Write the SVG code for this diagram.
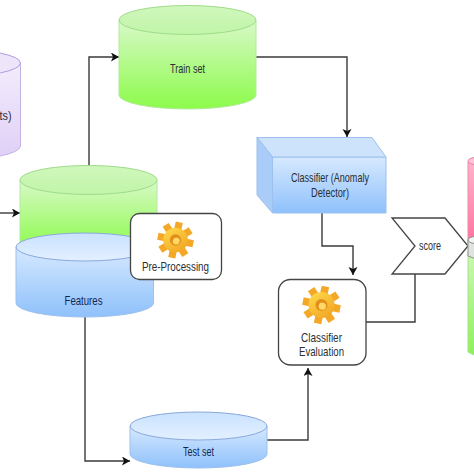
<svg xmlns="http://www.w3.org/2000/svg" width="474" height="474" viewBox="0 0 474 474">
<style>
text{font-family:"Liberation Sans",Arial,sans-serif;font-size:13px;fill:#2b2f33;text-anchor:middle}
.dk{fill:#12284f}
.conn{fill:none;stroke:#3a3a3a;stroke-width:1.4}
.box{fill:#fff;stroke:#444;stroke-width:1.3}
.gb{fill:url(#green);stroke:#b4e8a0;stroke-width:1}
.bb{fill:url(#blue);stroke:#9dc0ec;stroke-width:1}
.pb{fill:url(#purple);stroke:#c4b5e6;stroke-width:1}
.gt{fill:url(#greentop);stroke:#a0dc8a;stroke-width:1}
.bt{fill:url(#bluetop);stroke:#8aa8dc;stroke-width:1}
.pt{fill:#eee5fb;stroke:#ae9cdb;stroke-width:1}
</style>
<defs>
<linearGradient id="green" x1="0" y1="0" x2="0" y2="1"><stop offset="0" stop-color="#d8f9c8"/><stop offset="1" stop-color="#8cfb4a"/></linearGradient>
<linearGradient id="greentop" x1="0" y1="0" x2="0" y2="1"><stop offset="0" stop-color="#d0f7bd"/><stop offset="1" stop-color="#c0f5a8"/></linearGradient>
<linearGradient id="blue" x1="0" y1="0" x2="0" y2="1"><stop offset="0" stop-color="#d6e9ff"/><stop offset="1" stop-color="#8fc1fb"/></linearGradient>
<linearGradient id="bluetop" x1="0" y1="0" x2="0" y2="1"><stop offset="0" stop-color="#c9e2ff"/><stop offset="1" stop-color="#e3f0ff"/></linearGradient>
<linearGradient id="purple" x1="0" y1="0" x2="0" y2="1"><stop offset="0" stop-color="#f3ecfc"/><stop offset="1" stop-color="#dfcff7"/></linearGradient>
<linearGradient id="pink" x1="0" y1="0" x2="0" y2="1"><stop offset="0" stop-color="#ffb3cb"/><stop offset="1" stop-color="#ff6f9d"/></linearGradient>
<linearGradient id="rgreen" x1="0" y1="0" x2="0" y2="1"><stop offset="0" stop-color="#ccf7b0"/><stop offset="1" stop-color="#8cf257"/></linearGradient>
<linearGradient id="gearfill" x1="0" y1="0" x2="1" y2="1"><stop offset="0" stop-color="#ffdc4d"/><stop offset="1" stop-color="#f0a020"/></linearGradient>
<marker id="arrow" markerUnits="userSpaceOnUse" markerWidth="10" markerHeight="10" refX="8" refY="4.5" orient="auto"><path d="M0 0L8 4.5L0 9L2 4.5Z" fill="#111"/></marker>
<g id="gear">
<g fill="#f4a826">
<rect x="-3.800" y="-19" width="7.600" height="8"/>
<rect x="-3.800" y="-19" width="7.600" height="8" transform="rotate(45)"/>
<rect x="-3.800" y="-19" width="7.600" height="8" transform="rotate(90)"/>
<rect x="-3.800" y="-19" width="7.600" height="8" transform="rotate(135)"/>
<rect x="-3.800" y="-19" width="7.600" height="8" transform="rotate(180)"/>
<rect x="-3.800" y="-19" width="7.600" height="8" transform="rotate(225)"/>
<rect x="-3.800" y="-19" width="7.600" height="8" transform="rotate(270)"/>
<rect x="-3.800" y="-19" width="7.600" height="8" transform="rotate(315)"/>
</g>
<circle r="13" fill="url(#gearfill)"/>
<circle r="6" fill="#e2901a"/>
<circle cx="1" cy="1" r="3.600" fill="#ffd968"/>
</g>
</defs>

<g id="purple-store">
<path class="pb" d="M-116 63V146A68 14 0 0 0 20.500 146V63Z"/>
<ellipse class="pt" cx="-48" cy="63" rx="68.500" ry="14"/>
<text x="5.500" y="120" textLength="12" lengthAdjust="spacingAndGlyphs">ts)</text>
</g>

<g id="connectors">
<path class="conn" d="M0 213H20" marker-end="url(#arrow)"/>
<path class="conn" d="M89 166V57H119" marker-end="url(#arrow)"/>
<path class="conn" d="M256 57H347V137" marker-end="url(#arrow)"/>
<path class="conn" d="M322 213V246H353V275" marker-end="url(#arrow)"/>
<path class="conn" d="M85 317V461H130" marker-end="url(#arrow)"/>
<path class="conn" d="M267 440H308V368" marker-end="url(#arrow)"/>
<path class="conn" d="M415 274V322H366"/>
</g>

<g id="raw-data">
<path class="gb" d="M20 180V250H157V180Z"/>
<ellipse class="gt" cx="88.500" cy="180" rx="68.500" ry="14.500"/>
</g>

<g id="features">
<path class="bb" d="M16 247V303A68.750 14 0 0 0 153.500 303V247Z"/>
<ellipse class="bt" cx="84.750" cy="247" rx="68.750" ry="14"/>
<text class="dk" x="83.500" y="305" textLength="38" lengthAdjust="spacingAndGlyphs">Features</text>
</g>

<g id="pre-processing">
<rect class="box" x="130.500" y="213.500" width="91" height="66" rx="9"/>
<use href="#gear" transform="translate(175.500 240) rotate(12) scale(0.95)"/>
<text x="175.500" y="271" textLength="67" lengthAdjust="spacingAndGlyphs">Pre-Processing</text>
</g>

<g id="train-set">
<path class="gb" d="M119 20V95A68.500 14 0 0 0 256 95V20Z"/>
<ellipse class="gt" cx="187.500" cy="20" rx="68.500" ry="14.500"/>
<text x="187.500" y="73" textLength="35" lengthAdjust="spacingAndGlyphs">Train set</text>
</g>

<g id="classifier">
<path d="M272.500 157H386V213H272.500Z" fill="url(#blue)" stroke="#9dc0ec"/>
<path d="M257 137.500H372L386 157H272.500Z" fill="#cde3fc" stroke="#9dc0ec"/>
<path d="M257 137.500L272.500 157V213L257 195Z" fill="#a9cdf8" stroke="#9dc0ec"/>
<text x="330" y="182" textLength="78" lengthAdjust="spacingAndGlyphs">Classifier (Anomaly</text>
<text x="330" y="197" textLength="38" lengthAdjust="spacingAndGlyphs">Detector)</text>
</g>

<g id="classifier-evaluation">
<rect class="box" x="278.500" y="279.500" width="87.500" height="85.500" rx="12"/>
<use href="#gear" transform="translate(321.500 305) rotate(12)"/>
<text x="321.500" y="342" textLength="41" lengthAdjust="spacingAndGlyphs">Classifier</text>
<text x="321.500" y="356" textLength="45" lengthAdjust="spacingAndGlyphs">Evaluation</text>
</g>

<g id="score">
<path d="M392 218H445L468 246L445 274H392L415 246Z" fill="#fff" stroke="#444" stroke-width="1.300"/>
<text x="430" y="250" textLength="22" lengthAdjust="spacingAndGlyphs">score</text>
</g>

<g id="result">
<path d="M468 162V246H480V162Z" fill="url(#pink)" stroke="#ee8aa8"/>
<ellipse cx="476" cy="161" rx="8" ry="3.500" fill="#ffc4d8" stroke="#e77fa2"/>
<path d="M468 252V352L476 356H480V252Z" fill="url(#rgreen)" stroke="#a6e08e"/>
<path d="M468 240V256L476 259H480V240Z" fill="#dfe3df" stroke="#8b8f8b"/>
<ellipse cx="476" cy="240" rx="8" ry="3.500" fill="#f1f3f1" stroke="#8b8f8b"/>
</g>

<g id="test-set">
<path class="bb" d="M130 426V454A68.500 14 0 0 0 267 454V426Z"/>
<ellipse class="bt" cx="198.500" cy="426" rx="68.500" ry="14"/>
<text class="dk" x="198.500" y="456" textLength="31" lengthAdjust="spacingAndGlyphs">Test set</text>
</g>
</svg>
